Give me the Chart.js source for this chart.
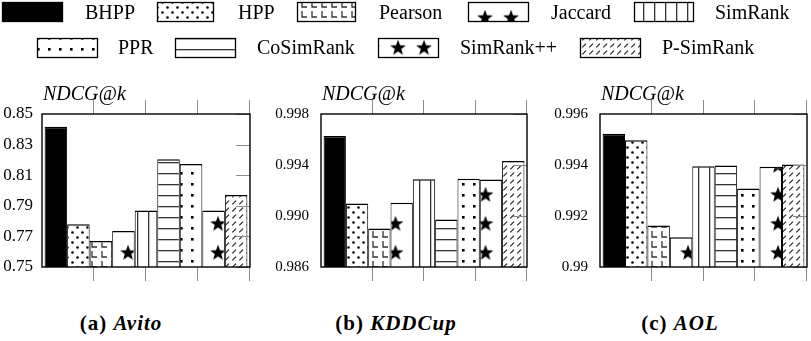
<!DOCTYPE html>
<html>
<head>
<meta charset="utf-8">
<script src="https://cdn.jsdelivr.net/npm/chart.js"></script>
<style>
  body { margin: 0; background: #fff; }
  #page { position: relative; width: 811px; height: 341px; overflow: hidden; font-family: "Liberation Serif", "DejaVu Serif", serif; color: #000; }
  .lbl { position: absolute; font-size: 20px; line-height: 20px; white-space: nowrap; }
  .ylab { position: absolute; top: 83px; font-size: 20px; line-height: 20px; font-style: italic; white-space: nowrap; }
  .cap { position: absolute; top: 313px; font-size: 21px; line-height: 21px; font-weight: bold; letter-spacing: 1px; white-space: nowrap; transform: translateX(-50%); }
  canvas { position: absolute; }
</style>
</head>
<body>
<div id="page">
  <canvas id="legend" width="811" height="62" style="left:0;top:0"></canvas>
  <canvas id="c1" width="254" height="210" style="left:0;top:80px"></canvas>
  <canvas id="c2" width="260" height="210" style="left:271px;top:80px"></canvas>
  <canvas id="c3" width="261" height="210" style="left:550px;top:80px"></canvas>
</div>
<script>
// methods (one bar each) and the NDCG@k values
const methods = ["BHPP", "HPP", "Pearson", "Jaccard", "SimRank", "CoSimRank", "PPR", "SimRank++", "P-SimRank"];
const avitoValues = [0.8417, 0.778, 0.767, 0.7735, 0.787, 0.8205, 0.8173, 0.787, 0.797];
const kddcupValues = [0.99627, 0.99098, 0.98902, 0.99103, 0.99289, 0.98972, 0.99292, 0.99287, 0.99431];
const aolValues = [0.99523, 0.99497, 0.99163, 0.99117, 0.99395, 0.99398, 0.99308, 0.99393, 0.99402];

// y tick values and their labels
const avitoTicks = [0.75, 0.77, 0.79, 0.81, 0.83, 0.85];
const avitoTickLabels = ["0.75", "0.77", "0.79", "0.81", "0.83", "0.85"];
const kddcupTicks = [0.986, 0.99, 0.994, 0.998];
const kddcupTickLabels = ["0.986", "0.990", "0.994", "0.998"];
const aolTicks = [0.99, 0.992, 0.994, 0.996];
const aolTickLabels = ["0.99", "0.992", "0.994", "0.996"];

const datasetNames = ["Avito", "KDDCup", "AOL"];
const captionTags = ["(a)", "(b)", "(c)"];
const yTitle = "NDCG@k";

// fill pattern per method
const fills = ["solid", "crossdots", "bricks", "stars", "vlines", "hlines", "dots", "stars", "nelines"];

const mod = (a, n) => ((a % n) + n) % n;

function drawStar(c, cx, cy, R, r) {
  c.beginPath();
  for (let i = 0; i < 10; i++) {
    const a = -Math.PI / 2 + (i * Math.PI) / 5;
    const rad = i % 2 ? r : R;
    c.lineTo(cx + rad * Math.cos(a), cy + rad * Math.sin(a));
  }
  c.closePath();
  c.fill();
}

// small tile canvases for the hatch patterns
function makeTile(kind, starW) {
  const sizes = { crossdots: [10, 10], bricks: [10, 10], stars: [starW || 30, 29], vlines: [11, 4], hlines: [4, 11], dots: [11, 11], nelines: [7, 7] };
  const [w, h] = sizes[kind];
  const t = document.createElement("canvas");
  t.width = w;
  t.height = h;
  const c = t.getContext("2d");
  c.fillStyle = "#fff";
  c.fillRect(0, 0, w, h);
  c.fillStyle = "#000";
  c.strokeStyle = "#333";
  if (kind === "crossdots") {
    c.beginPath(); c.arc(2.5, 2.5, 1.3, 0, Math.PI * 2); c.fill();
    c.beginPath(); c.arc(7.5, 7.5, 1.3, 0, Math.PI * 2); c.fill();
  } else if (kind === "bricks") {
    c.lineWidth = 1.3;
    c.beginPath(); c.moveTo(2, 1); c.lineTo(2, 7); c.lineTo(7, 7); c.stroke();
  } else if (kind === "stars") {
    drawStar(c, w / 2, h / 2, 8.3, 3.4);
  } else if (kind === "vlines") {
    c.fillStyle = "#333"; c.fillRect(5, 0, 1.3, h);
  } else if (kind === "hlines") {
    c.fillStyle = "#333"; c.fillRect(0, 5, w, 1.3);
  } else if (kind === "dots") {
    c.fillRect(4, 4, 2.6, 2.6);
  } else if (kind === "nelines") {
    c.lineWidth = 1.2; c.strokeStyle = "#222";
    c.beginPath(); c.moveTo(1.3, 5.3); c.lineTo(5, 1.6); c.stroke();
  }
  return t;
}

function makeFill(ctx, kind, ox, oy, starW) {
  if (kind === "solid") return "#000";
  const p = ctx.createPattern(makeTile(kind, starW), "repeat");
  p.setTransform(new DOMMatrix().translate(ox || 0, oy || 0));
  return p;
}

// frame, outward x ticks and inward right y ticks
const framePlugin = {
  id: "frame",
  afterDatasetsDraw(chart) {
    const { ctx, chartArea: a } = chart;
    const y = chart.scales.y;
    ctx.save();
    ctx.strokeStyle = "#8c8c8c";
    ctx.lineWidth = 1;
    ctx.beginPath();
    for (let i = 1; i <= 4; i++) {
      const x = Math.round(a.left + ((a.right - a.left) * i) / 4) - 0.5;
      ctx.moveTo(x, a.top - 14); ctx.lineTo(x, a.top);
      ctx.moveTo(x, a.bottom); ctx.lineTo(x, a.bottom + 14);
    }
    y.ticks.forEach((t) => {
      const yy = Math.round(y.getPixelForValue(t.value)) + 0.5;
      ctx.moveTo(a.right - 14, yy); ctx.lineTo(a.right, yy);
    });
    ctx.stroke();
    ctx.strokeStyle = "#000";
    ctx.lineWidth = 1.4;
    ctx.strokeRect(a.left, a.top, a.right - a.left, a.bottom - a.top);
    ctx.restore();
  },
};

document.addEventListener("DOMContentLoaded", () => {
  const page = document.getElementById("page");
  Chart.defaults.font.family = "'Liberation Serif', 'DejaVu Serif', serif";

  // legend: swatches on one canvas, labels as text (PPR comes before CoSimRank in row 2)
  const swatchX = [[2, 62], [157, 213], [297, 355], [468, 528], [634, 693], [175, 235], [37, 97], [378, 438], [580, 640]];
  const textX = [85, 238, 379, 551, 715, 257, 118, 460, 662];
  const row = [0, 0, 0, 0, 0, 1, 1, 1, 1];
  const starSpots = { 3: [485, 18], 7: [398, 48] };
  const lctx = document.getElementById("legend").getContext("2d");
  methods.forEach((name, i) => {
    const [x0, x1] = swatchX[i];
    const y0 = row[i] ? 38 : 2;
    let ox = 0, oy = 0;
    if (starSpots[i]) {
      ox = mod(starSpots[i][0] - 13, 26);
      oy = mod(starSpots[i][1] - 14.5, 29);
    }
    lctx.fillStyle = makeFill(lctx, fills[i], ox, oy, 26);
    lctx.fillRect(x0, y0, x1 - x0, 19);
    lctx.strokeStyle = "#000";
    lctx.lineWidth = 1.3;
    lctx.strokeRect(x0 + 0.5, y0 + 0.5, x1 - x0, 19);

    const lbl = document.createElement("div");
    lbl.className = "lbl";
    lbl.textContent = name;
    lbl.style.left = textX[i] + "px";
    lbl.style.top = (row[i] ? 36.75 : 1.75) + "px";
    page.appendChild(lbl);
  });

  const panels = [
    { id: "c1", left: 0, axisW: 42, values: avitoValues, ticks: avitoTicks, tickLabels: avitoTickLabels, fontSize: 17, pad: 9, starX: 128, capX: 121 },
    { id: "c2", left: 271, axisW: 50, values: kddcupValues, ticks: kddcupTicks, tickLabels: kddcupTickLabels, fontSize: 15, pad: 12, starX: 395.5, capX: 396 },
    { id: "c3", left: 550, axisW: 50, values: aolValues, ticks: aolTicks, tickLabels: aolTickLabels, fontSize: 15, pad: 12, starX: 688, capX: 680 },
  ];

  panels.forEach((p, k) => {
    const ctx = document.getElementById(p.id).getContext("2d");
    const sx = mod(p.starX - p.left - 15, 30);
    const sy = mod(253 - 80 - 14.5, 29);

    const datasets = methods.map((m, i) => ({
      label: m,
      data: [p.values[i]],
      backgroundColor: makeFill(ctx, fills[i], fills[i] === "stars" ? sx : 0, fills[i] === "stars" ? sy : 0, 30),
      borderColor: "#000",
      borderWidth: { top: 1.5, left: 1, right: 1, bottom: 0 },
      categoryPercentage: 0.975,
      barPercentage: 1,
    }));

    new Chart(ctx, {
      type: "bar",
      data: { labels: [""], datasets },
      options: {
        responsive: false,
        animation: false,
        events: [],
        layout: { padding: { left: 0, right: 4, top: 34, bottom: 23 } },
        plugins: { legend: { display: false }, tooltip: { enabled: false } },
        scales: {
          x: { display: false },
          y: {
            min: p.ticks[0],
            max: p.ticks[p.ticks.length - 1],
            afterFit: (s) => { s.width = p.axisW; },
            afterBuildTicks: (s) => { s.ticks = p.ticks.map((v) => ({ value: v })); },
            ticks: { callback: (v, i) => p.tickLabels[i], padding: p.pad, color: "#000", font: { size: p.fontSize } },
            grid: { display: false, drawTicks: false },
            border: { display: false },
          },
        },
      },
      plugins: [framePlugin],
    });

    // y title above the plot and caption below
    const yl = document.createElement("div");
    yl.className = "ylab";
    yl.textContent = yTitle;
    yl.style.left = p.left + p.axisW + 1 + "px";
    page.appendChild(yl);

    const cap = document.createElement("div");
    cap.className = "cap";
    cap.innerHTML = captionTags[k] + " <i>" + datasetNames[k] + "</i>";
    cap.style.left = p.capX + "px";
    page.appendChild(cap);
  });
});
</script>
</body>
</html>
